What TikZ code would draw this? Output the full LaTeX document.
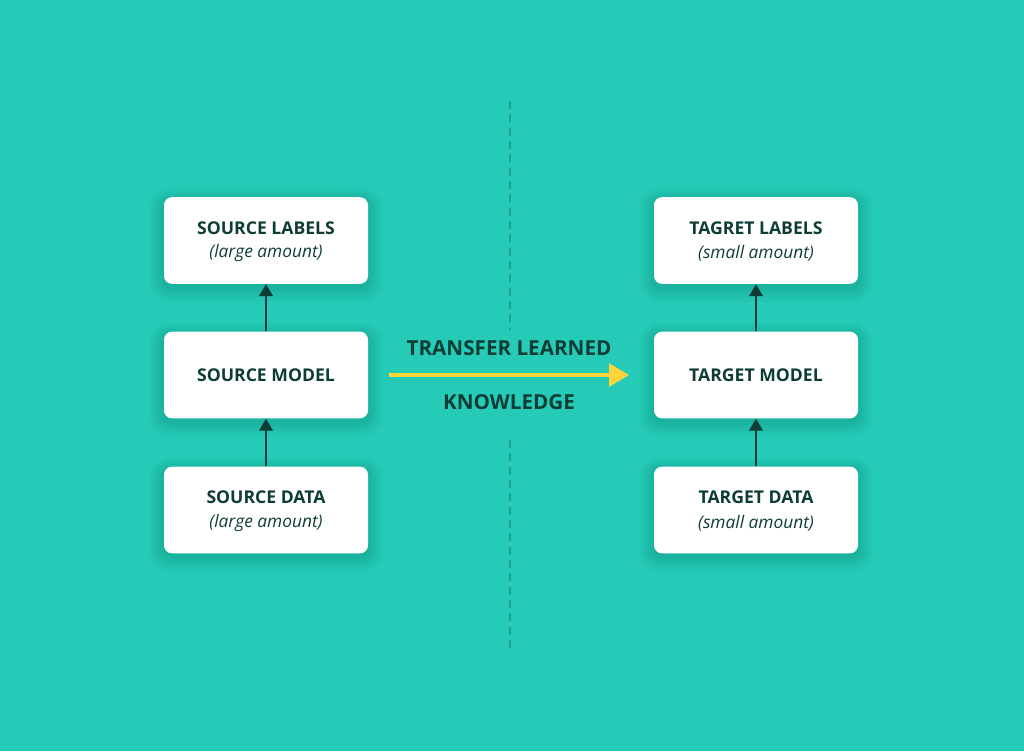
\documentclass[tikz,border=0pt]{standalone}
\usepackage{fontspec}
\setmainfont{Open Sans}
\usetikzlibrary{arrows.meta}
\definecolor{bgteal}{HTML}{26CBB7}
\definecolor{dashteal}{HTML}{1CA595}
\definecolor{darktext}{HTML}{0E3D36}
\definecolor{shadowteal}{HTML}{0F6E62}
\definecolor{arrowyellow}{HTML}{FFD43B}
\tikzset{
  x=0.75pt, y=-0.75pt,
  card/.style={draw=none, fill=white, rounded corners=6pt, minimum width=153pt, minimum height=65pt, inner sep=0pt, align=center, text=darktext},
  up/.style={draw=darktext, line width=1.9pt, -{Triangle[length=9pt,width=10pt]}},
  big/.style={font=\fontsize{15.5pt}{18pt}\selectfont\bfseries, text=darktext},
  ttl/.style={font=\fontsize{13.2pt}{16pt}\selectfont\bfseries, text=darktext},
  sub/.style={font=\fontsize{13pt}{16pt}\selectfont\itshape, text=darktext}
}
\begin{document}
\begin{tikzpicture}
\fill[bgteal] (0,0) rectangle (1024,751);
\useasboundingbox (0,0) rectangle (1024,751);
% soft shadows
\foreach \cx/\cy in {266/240.5, 266/375, 266/510, 756/240.5, 756/375, 756/510}{
  \foreach \s in {1,...,12}{
    \fill[shadowteal, opacity=0.018, rounded corners={6pt+\s*0.75pt}]
      (\cx-102-\s*1.3, \cy-43.5-\s*1.0+3) rectangle (\cx+102+\s*1.3, \cy+43.5+\s*1.3+3);
  }
}
% dashed divider
\coordinate (d1) at (510,101);
\coordinate (d2) at (510,330);
\coordinate (d3) at (510,440);
\coordinate (d4) at (510,650);
\draw[dashteal, line width=2.2pt, dash pattern=on 6pt off 4pt] (d1) -- (d2);
\draw[dashteal, line width=2.2pt, dash pattern=on 6pt off 4pt] (d3) -- (d4);
% left column
\node[card] (sl) at (266,240.5) {};
\node[ttl] at (266,228) {SOURCE LABELS};
\node[sub] at (266,253) {(large amount)};
\node[card] (sm) at (266,375) {};
\node[ttl] at (266,375) {SOURCE MODEL};
\node[card] (sd) at (266,510) {};
\node[ttl] at (266,497) {SOURCE DATA};
\node[sub] at (266,523) {(large amount)};
% right column
\node[card] (tl) at (756,240.5) {};
\node[ttl] at (756,228) {TAGRET LABELS};
\node[sub] at (756,253) {(small amount)};
\node[card] (tm) at (756,375) {};
\node[ttl] at (756,375) {TARGET MODEL};
\node[card] (td) at (756,510) {};
\node[ttl] at (756,497) {TARGET DATA};
\node[sub] at (756,523) {(small amount)};
% vertical arrows
\draw[up] (sd.north) -- (sm.south);
\draw[up] (sm.north) -- (sl.south);
\draw[up] (td.north) -- (tm.south);
\draw[up] (tm.north) -- (tl.south);
% transfer arrow
\coordinate (ta) at (389,375);
\coordinate (tb) at (629,375);
\draw[arrowyellow, line width=3pt, -{Triangle[length=15pt,width=17pt]}] (ta) -- (tb);
\node[big] (t1) at (509,348) {TRANSFER LEARNED};
\node[big] (t2) at (509,402) {KNOWLEDGE};
\end{tikzpicture}
\end{document}
